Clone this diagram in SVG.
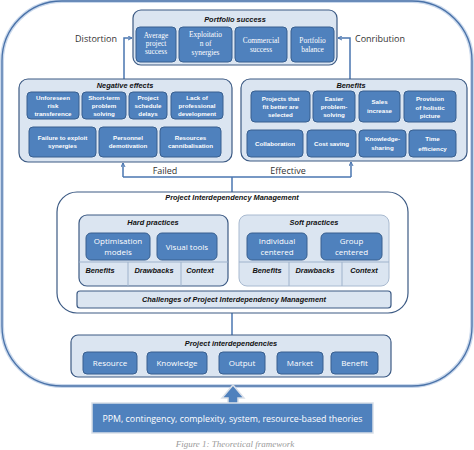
<svg xmlns="http://www.w3.org/2000/svg" width="474" height="450" viewBox="0 0 474 450">
<defs>
<style>
.frame{fill:none;stroke:#4a72a8;stroke-width:1.3}
.cont{fill:#dbe5f1;stroke:#3c5a84;stroke-width:1.2}
.dk{fill:#4f81bd;stroke:#385f8f;stroke-width:1}
.wt{fill:#fff;font-family:"Liberation Sans","DejaVu Sans",sans-serif;font-weight:bold;font-size:6.2px;text-anchor:middle}
.ws{fill:#fff;font-family:"Liberation Serif","DejaVu Serif",serif;font-size:7.4px;text-anchor:middle}
.wm{fill:#fff;font-family:"Open Sans","Liberation Sans",sans-serif;font-size:8px;text-anchor:middle}
.ti{fill:#111;font-family:"Liberation Sans","DejaVu Sans",sans-serif;font-weight:bold;font-style:italic;font-size:7.4px;text-anchor:middle}
.lb{fill:#333;font-family:"Open Sans","Liberation Sans",sans-serif;font-size:9px;text-anchor:middle}
.con{fill:none;stroke:#4a76b0;stroke-width:1.5}
</style>
<marker id="ah" viewBox="0 0 10 10" refX="9" refY="5" markerWidth="5" markerHeight="5" orient="auto" markerUnits="userSpaceOnUse">
<polyline points="1,1 9,5 1,9" fill="none" stroke="#4a76b0" stroke-width="2"/>
</marker>
</defs>
<rect width="474" height="450" fill="#fff"/>
<g id="frame">
<rect x="2" y="1" width="470" height="385" rx="60" fill="none" stroke="#c9d8ec" stroke-width="4"/>
<rect x="2" y="1" width="470" height="385" rx="60" class="frame"/>
</g>
<g id="connectors">
<polyline class="con" points="124,79 124,38 132,38" marker-end="url(#ah)"/>
<polyline class="con" points="350,79 350,38 338,38" marker-end="url(#ah)"/>
<polyline class="con" points="123,177 123,163" marker-end="url(#ah)"/>
<polyline class="con" points="351,177 351,162" marker-end="url(#ah)"/>
<polyline class="con" points="123,177 351,177"/>
<polyline class="con" points="232,177 232,192"/>
<polyline class="con" points="232,313 232,335"/>
<text class="lb" x="96" y="42">Distortion</text>
<text class="lb" x="380" y="42">Conribution</text>
<text class="lb" x="165" y="174">Failed</text>
<text class="lb" x="288" y="174">Effective</text>
</g>
<g id="portfolio">
<rect class="cont" x="133" y="10" width="204" height="55" rx="8"/>
<text class="ti" x="235" y="22" font-size="8">Portfolio success</text>
<rect class="dk" x="136" y="27" width="40" height="35" rx="4"/>
<text class="ws" x="156" y="38">Average</text><text class="ws" x="156" y="46">project</text><text class="ws" x="156" y="54">success</text>
<rect class="dk" x="179" y="27" width="53" height="35" rx="4"/>
<text class="ws" x="205.5" y="37">Exploitatio</text><text class="ws" x="205.5" y="46">n of</text><text class="ws" x="205.5" y="55">synergies</text>
<rect class="dk" x="235" y="27" width="52" height="35" rx="4"/>
<text class="ws" x="261" y="43">Commercial</text><text class="ws" x="261" y="52">success</text>
<rect class="dk" x="291" y="27" width="43" height="35" rx="4"/>
<text class="ws" x="312.5" y="43">Portfolio</text><text class="ws" x="312.5" y="52">balance</text>
</g>
<g id="negative">
<rect class="cont" x="19" y="79" width="213" height="83" rx="9"/>
<text class="ti" x="125" y="88" font-size="8">Negative effects</text>
<rect class="dk" x="27" y="92" width="52" height="27" rx="4"/>
<text class="wt" x="53" y="100">Unforeseen</text><text class="wt" x="53" y="108">risk</text><text class="wt" x="53" y="116">transference</text>
<rect class="dk" x="82" y="92" width="44" height="27" rx="4"/>
<text class="wt" x="104" y="100">Short-term</text><text class="wt" x="104" y="108">problem</text><text class="wt" x="104" y="116">solving</text>
<rect class="dk" x="129" y="92" width="38" height="27" rx="4"/>
<text class="wt" x="148" y="100">Project</text><text class="wt" x="148" y="108">schedule</text><text class="wt" x="148" y="116">delays</text>
<rect class="dk" x="171" y="92" width="52" height="27" rx="4"/>
<text class="wt" x="197" y="100">Lack of</text><text class="wt" x="197" y="108">professional</text><text class="wt" x="197" y="116">development</text>
<rect class="dk" x="29" y="127" width="67" height="30" rx="4"/>
<text class="wt" x="62.5" y="140">Failure to exploit</text><text class="wt" x="62.5" y="148">synergies</text>
<rect class="dk" x="99" y="127" width="58" height="30" rx="4"/>
<text class="wt" x="128" y="140">Personnel</text><text class="wt" x="128" y="148">demotivation</text>
<rect class="dk" x="160" y="127" width="61" height="30" rx="4"/>
<text class="wt" x="190.5" y="140">Resources</text><text class="wt" x="190.5" y="148">cannibalisation</text>
</g>
<g id="benefits">
<rect class="cont" x="241" y="79" width="226" height="82" rx="9"/>
<text class="ti" x="351" y="88" font-size="8">Benefits</text>
<rect class="dk" x="251" y="91" width="59" height="31" rx="4"/>
<text class="wt" x="280.5" y="101">Projects that</text><text class="wt" x="280.5" y="109">fit better are</text><text class="wt" x="280.5" y="117">selected</text>
<rect class="dk" x="313" y="91" width="42" height="31" rx="4"/>
<text class="wt" x="334" y="101">Easier</text><text class="wt" x="334" y="109">problem-</text><text class="wt" x="334" y="117">solving</text>
<rect class="dk" x="359" y="91" width="41" height="31" rx="4"/>
<text class="wt" x="379.5" y="104" font-size="7.4">Sales</text><text class="wt" x="379.5" y="113" font-size="7">increase</text>
<rect class="dk" x="404" y="91" width="52" height="31" rx="4"/>
<text class="wt" x="430" y="101" font-size="7">Provision</text><text class="wt" x="430" y="109.5" font-size="7">of holistic</text><text class="wt" x="430" y="118" font-size="7">picture</text>
<rect class="dk" x="247" y="130" width="56" height="27" rx="4"/>
<text class="wt" x="275" y="146">Collaboration</text>
<rect class="dk" x="307" y="130" width="49" height="27" rx="4"/>
<text class="wt" x="331.5" y="146">Cost saving</text>
<rect class="dk" x="359" y="130" width="47" height="27" rx="4"/>
<text class="wt" x="382.5" y="141">Knowledge-</text><text class="wt" x="382.5" y="150">sharing</text>
<rect class="dk" x="409" y="130" width="47" height="27" rx="4"/>
<text class="wt" x="432.5" y="141" font-size="7.4">Time</text><text class="wt" x="432.5" y="150.5" font-size="7.4">efficiency</text>
</g>
<g id="pim">
<rect x="57" y="192" width="351" height="121" rx="20" fill="#fff" stroke="#3c5a84" stroke-width="1.2"/>
<text class="ti" x="232" y="200" font-size="8.8">Project Interdependency Management</text>
</g>
<g id="hard">
<rect class="cont" x="79" y="215" width="149" height="71" rx="8"/>
<text class="ti" x="153" y="225">Hard practices</text>
<rect class="dk" x="86" y="233" width="64" height="27" rx="5"/>
<text class="wm" x="118" y="244">Optimisation</text><text class="wm" x="118" y="255">models</text>
<rect class="dk" x="157" y="233" width="60" height="27" rx="5"/>
<text class="wm" x="187" y="250">Visual tools</text>
<path d="M79,262 H228 M128,262 V286 M181,262 V286" stroke="#9fb3cc" stroke-width="1" fill="none"/>
<text class="ti" x="100" y="273" font-size="6.8">Benefits</text>
<text class="ti" x="154" y="273" font-size="6.8">Drawbacks</text>
<text class="ti" x="200" y="273" font-size="6.8">Context</text>
</g>
<g id="soft">
<rect x="239" y="215" width="150" height="71" rx="8" fill="#dbe5f1" stroke="#a9bad0" stroke-width="1"/>
<text class="ti" x="314" y="225">Soft practices</text>
<rect class="dk" x="247" y="233" width="60" height="27" rx="5"/>
<text class="wm" x="277" y="244">Individual</text><text class="wm" x="277" y="255">centered</text>
<rect class="dk" x="321" y="233" width="61" height="27" rx="5"/>
<text class="wm" x="351.5" y="244">Group</text><text class="wm" x="351.5" y="255">centered</text>
<path d="M239,262 H389 M289,262 V286 M342,262 V286" stroke="#9fb3cc" stroke-width="1" fill="none"/>
<text class="ti" x="267" y="273" font-size="6.8">Benefits</text>
<text class="ti" x="315" y="273" font-size="6.8">Drawbacks</text>
<text class="ti" x="364" y="273" font-size="6.8">Context</text>
</g>
<g id="challenges">
<rect class="cont" x="77" y="291" width="314" height="17" rx="3"/>
<text class="ti" x="234" y="302" font-size="7">Challenges of Project Interdependency Management</text>
</g>
<g id="interdependencies">
<rect class="cont" x="71" y="335" width="320" height="42" rx="7"/>
<text class="ti" x="231" y="346" font-size="7.8">Project interdependencies</text>
<rect class="dk" x="83" y="352" width="54" height="22" rx="4"/>
<text class="wm" x="110" y="366">Resource</text>
<rect class="dk" x="147" y="352" width="60" height="22" rx="4"/>
<text class="wm" x="177" y="366">Knowledge</text>
<rect class="dk" x="219" y="352" width="46" height="22" rx="4"/>
<text class="wm" x="242" y="366">Output</text>
<rect class="dk" x="277" y="352" width="46" height="22" rx="4"/>
<text class="wm" x="300" y="366">Market</text>
<rect class="dk" x="331" y="352" width="47" height="22" rx="4"/>
<text class="wm" x="354.5" y="366">Benefit</text>
</g>
<g id="theories">
<polygon points="233,385 244,398 238,398 238,404 228,404 228,398 222,398" fill="#4f81bd" stroke="#d9dfe8" stroke-width="1.5"/>
<rect x="92" y="403" width="281" height="30" fill="#4f81bd" stroke="#d9dfe8" stroke-width="1.5"/>
<text x="232.5" y="421.5" fill="#fff" font-family="'Open Sans','Liberation Sans',sans-serif" font-size="8.8" text-anchor="middle" textLength="260" lengthAdjust="spacingAndGlyphs">PPM, contingency, complexity, system, resource-based theories</text>
</g>
<text x="235" y="447" fill="#9a9a9a" font-family="'Liberation Serif',serif" font-style="italic" font-size="9" text-anchor="middle">Figure 1: Theoretical framework</text>
</svg>
